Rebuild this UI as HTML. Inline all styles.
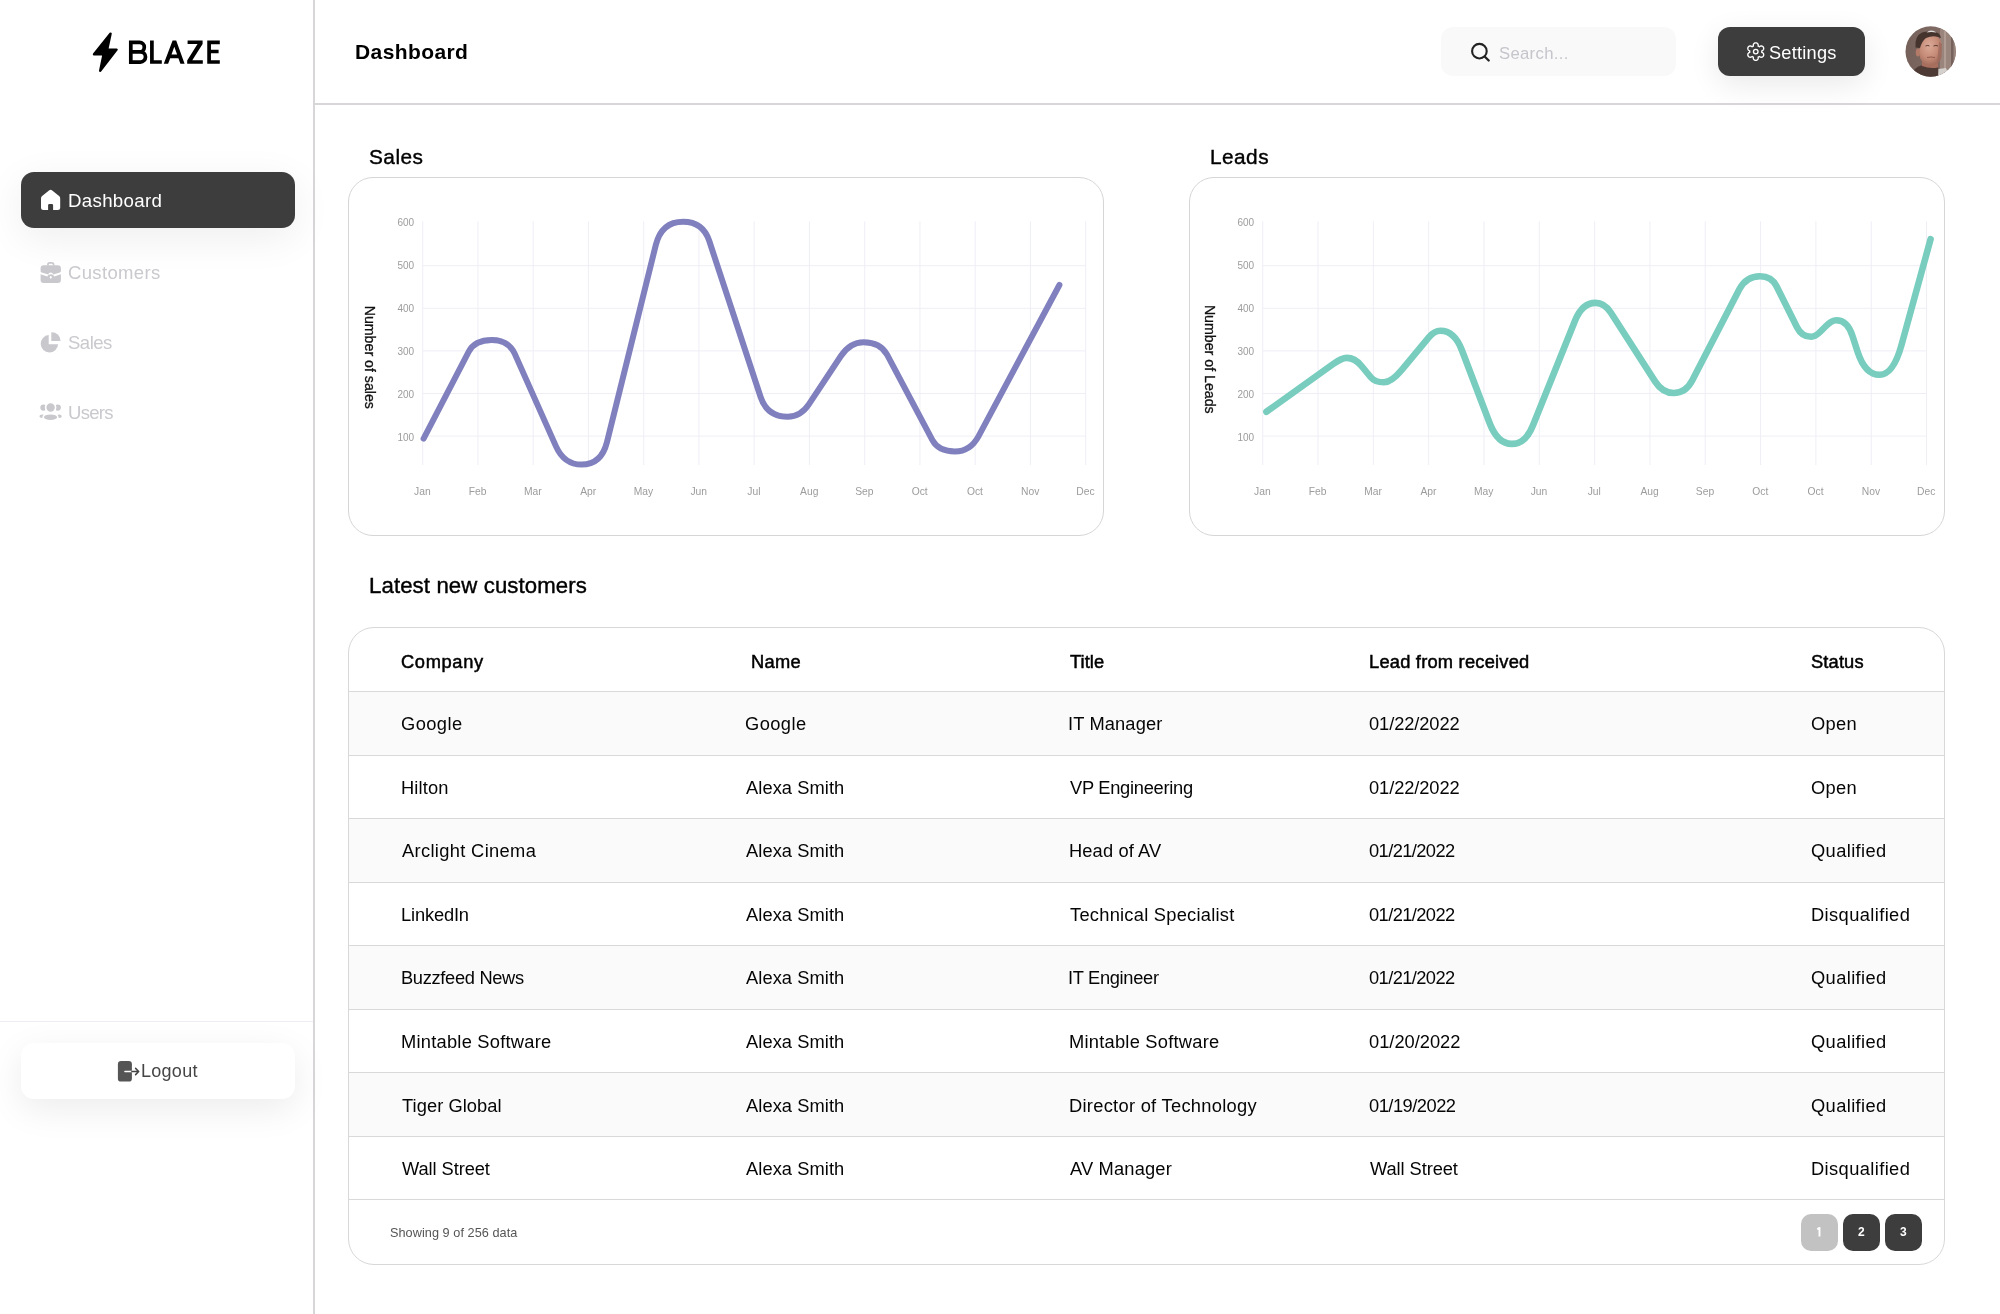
<!DOCTYPE html>
<html><head><meta charset="utf-8"><title>Dashboard</title>
<style>
*{box-sizing:border-box;margin:0;padding:0}
html,body{width:2000px;height:1314px;overflow:hidden;background:#fff;font-family:"Liberation Sans",sans-serif;}
.t{position:absolute;line-height:1;white-space:nowrap;will-change:transform}
.abs{position:absolute;}
svg{position:absolute;left:0;top:0;overflow:visible}
</style></head><body>
<div class="abs" style="left:313px;top:0;width:2px;height:1314px;background:#d8d6d8"></div>
<div class="abs" style="left:315px;top:103px;width:1685px;height:2px;background:#d8d6d8"></div>
<div class="abs" style="left:0;top:1020.5px;width:313px;height:1px;background:#eeedf3"></div>
<div class="abs" style="left:21px;top:172px;width:274px;height:56px;border-radius:13px;background:#3d3d3d;box-shadow:0 10px 40px rgba(0,0,0,0.07)"></div>
<div class="abs" style="left:21px;top:1043px;width:274px;height:56px;border-radius:13px;background:#fff;box-shadow:0 10px 36px rgba(0,0,0,0.08)"></div>
<div class="abs" style="left:1441px;top:27px;width:235px;height:49px;border-radius:12px;background:#f9f9f9"></div>
<div class="abs" style="left:1718px;top:27px;width:147px;height:49px;border-radius:12px;background:#3d3d3d;box-shadow:0 8px 30px rgba(0,0,0,0.09)"></div>
<div class="abs" style="left:348px;top:177px;width:756px;height:359px;border-radius:25px;border:1px solid #d6d6d6;background:#fff"></div>
<div class="abs" style="left:1189px;top:177px;width:756px;height:359px;border-radius:25px;border:1px solid #d6d6d6;background:#fff"></div>
<div class="abs" style="left:348px;top:627px;width:1597px;height:638px;border-radius:26px;border:1px solid #d8d8d8;background:#fff;overflow:hidden"><div class="abs" style="left:0;top:64px;width:1600px;height:63px;background:#fafafa"></div><div class="abs" style="left:0;top:191px;width:1600px;height:63px;background:#fafafa"></div><div class="abs" style="left:0;top:318px;width:1600px;height:63px;background:#fafafa"></div><div class="abs" style="left:0;top:445px;width:1600px;height:63px;background:#fafafa"></div><div class="abs" style="left:0;top:63px;width:1600px;height:1px;background:#d9d9d9"></div><div class="abs" style="left:0;top:127px;width:1600px;height:1px;background:#d9d9d9"></div><div class="abs" style="left:0;top:190px;width:1600px;height:1px;background:#d9d9d9"></div><div class="abs" style="left:0;top:254px;width:1600px;height:1px;background:#d9d9d9"></div><div class="abs" style="left:0;top:317px;width:1600px;height:1px;background:#d9d9d9"></div><div class="abs" style="left:0;top:381px;width:1600px;height:1px;background:#d9d9d9"></div><div class="abs" style="left:0;top:444px;width:1600px;height:1px;background:#d9d9d9"></div><div class="abs" style="left:0;top:508px;width:1600px;height:1px;background:#d9d9d9"></div><div class="abs" style="left:0;top:571px;width:1600px;height:1px;background:#d9d9d9"></div></div>
<div class="abs" style="left:1801px;top:1214px;width:37px;height:37px;border-radius:10px;background:#c2c2c2"></div>
<div class="abs" style="left:1843px;top:1214px;width:37px;height:37px;border-radius:10px;background:#3d3d3d"></div>
<div class="t" style="left:1858.1px;top:1226.1px;font-size:12px;color:#fff;font-weight:700;">2</div>
<div class="abs" style="left:1885px;top:1214px;width:37px;height:37px;border-radius:10px;background:#3d3d3d"></div>
<div class="t" style="left:1900.1px;top:1226.1px;font-size:12px;color:#fff;font-weight:700;">3</div>
<div class="t" style="left:354.8px;top:40.8px;font-size:21px;color:#000;font-weight:700;letter-spacing:0.4px">Dashboard</div>
<div class="t" style="left:1498.6px;top:45.8px;font-size:16.7px;color:#c5c5cc;font-weight:400;letter-spacing:0.31px">Search...</div>
<div class="t" style="left:1768.5px;top:43.5px;font-size:18.2px;color:#fff;font-weight:400;letter-spacing:0.24px">Settings</div>
<div class="t" style="left:68.4px;top:192.1px;font-size:18.7px;color:#fff;font-weight:400;letter-spacing:0.3px">Dashboard</div>
<div class="t" style="left:68.4px;top:264.2px;font-size:18.5px;color:#c9c9ce;font-weight:400;letter-spacing:0.34px">Customers</div>
<div class="t" style="left:68.4px;top:334.2px;font-size:18.5px;color:#c9c9ce;font-weight:400;letter-spacing:-0.5px">Sales</div>
<div class="t" style="left:68.4px;top:403.7px;font-size:18.5px;color:#c9c9ce;font-weight:400;letter-spacing:-0.72px">Users</div>
<div class="t" style="left:141.3px;top:1062.3px;font-size:18px;color:#454545;font-weight:400;letter-spacing:0.28px">Logout</div>
<div class="t" style="left:368.9px;top:146.9px;font-size:20.8px;color:#000;font-weight:400;letter-spacing:0.5px;-webkit-text-stroke:0.4px #000">Sales</div>
<div class="t" style="left:1210.4px;top:146.9px;font-size:20.8px;color:#000;font-weight:400;letter-spacing:0.47px;-webkit-text-stroke:0.4px #000">Leads</div>
<div class="t" style="left:369.4px;top:574.9px;font-size:22.2px;color:#000;font-weight:400;letter-spacing:0.11px;-webkit-text-stroke:0.4px #000">Latest new customers</div>
<div class="t" style="left:401.0px;top:652.7px;font-size:18.3px;color:#000;font-weight:400;letter-spacing:0.65px;-webkit-text-stroke:0.5px #000">Company</div>
<div class="t" style="left:751.0px;top:652.7px;font-size:18.3px;color:#000;font-weight:400;letter-spacing:0.3px;-webkit-text-stroke:0.5px #000">Name</div>
<div class="t" style="left:1070.0px;top:652.7px;font-size:18.3px;color:#000;font-weight:400;letter-spacing:0.05px;-webkit-text-stroke:0.5px #000">Title</div>
<div class="t" style="left:1369.0px;top:652.7px;font-size:18.3px;color:#000;font-weight:400;letter-spacing:0.22px;-webkit-text-stroke:0.5px #000">Lead from received</div>
<div class="t" style="left:1810.8px;top:652.7px;font-size:18.3px;color:#000;font-weight:400;letter-spacing:0.15px;-webkit-text-stroke:0.5px #000">Status</div>
<div class="t" style="left:400.5px;top:715.0px;font-size:18.3px;color:#050505;font-weight:400;letter-spacing:0.44px">Google</div>
<div class="t" style="left:745.0px;top:715.0px;font-size:18.3px;color:#050505;font-weight:400;letter-spacing:0.44px">Google</div>
<div class="t" style="left:1068.2px;top:715.0px;font-size:18.3px;color:#050505;font-weight:400;letter-spacing:0.133px">IT Manager</div>
<div class="t" style="left:1369.2px;top:715.0px;font-size:18.3px;color:#050505;font-weight:400;letter-spacing:-0.089px">01/22/2022</div>
<div class="t" style="left:1811.0px;top:715.0px;font-size:18.3px;color:#050505;font-weight:400;letter-spacing:0.333px">Open</div>
<div class="t" style="left:400.5px;top:778.6px;font-size:18.3px;color:#050505;font-weight:400;letter-spacing:0.14px">Hilton</div>
<div class="t" style="left:746.0px;top:778.6px;font-size:18.3px;color:#050505;font-weight:400;letter-spacing:0.07px">Alexa Smith</div>
<div class="t" style="left:1070.2px;top:778.6px;font-size:18.3px;color:#050505;font-weight:400;letter-spacing:-0.277px">VP Engineering</div>
<div class="t" style="left:1369.2px;top:778.6px;font-size:18.3px;color:#050505;font-weight:400;letter-spacing:-0.089px">01/22/2022</div>
<div class="t" style="left:1811.0px;top:778.6px;font-size:18.3px;color:#050505;font-weight:400;letter-spacing:0.333px">Open</div>
<div class="t" style="left:401.5px;top:842.2px;font-size:18.3px;color:#050505;font-weight:400;letter-spacing:0.343px">Arclight Cinema</div>
<div class="t" style="left:746.0px;top:842.2px;font-size:18.3px;color:#050505;font-weight:400;letter-spacing:0.07px">Alexa Smith</div>
<div class="t" style="left:1069.2px;top:842.2px;font-size:18.3px;color:#050505;font-weight:400;letter-spacing:0.122px">Head of AV</div>
<div class="t" style="left:1369.2px;top:842.2px;font-size:18.3px;color:#050505;font-weight:400;letter-spacing:-0.589px">01/21/2022</div>
<div class="t" style="left:1811.0px;top:842.2px;font-size:18.3px;color:#050505;font-weight:400;letter-spacing:0.387px">Qualified</div>
<div class="t" style="left:400.5px;top:905.8px;font-size:18.3px;color:#050505;font-weight:400;letter-spacing:-0.157px">LinkedIn</div>
<div class="t" style="left:746.0px;top:905.8px;font-size:18.3px;color:#050505;font-weight:400;letter-spacing:0.07px">Alexa Smith</div>
<div class="t" style="left:1070.2px;top:905.8px;font-size:18.3px;color:#050505;font-weight:400;letter-spacing:0.253px">Technical Specialist</div>
<div class="t" style="left:1369.2px;top:905.8px;font-size:18.3px;color:#050505;font-weight:400;letter-spacing:-0.589px">01/21/2022</div>
<div class="t" style="left:1811.0px;top:905.8px;font-size:18.3px;color:#050505;font-weight:400;letter-spacing:0.391px">Disqualified</div>
<div class="t" style="left:400.5px;top:969.3px;font-size:18.3px;color:#050505;font-weight:400;letter-spacing:-0.325px">Buzzfeed News</div>
<div class="t" style="left:746.0px;top:969.3px;font-size:18.3px;color:#050505;font-weight:400;letter-spacing:0.07px">Alexa Smith</div>
<div class="t" style="left:1068.2px;top:969.3px;font-size:18.3px;color:#050505;font-weight:400;letter-spacing:-0.32px">IT Engineer</div>
<div class="t" style="left:1369.2px;top:969.3px;font-size:18.3px;color:#050505;font-weight:400;letter-spacing:-0.589px">01/21/2022</div>
<div class="t" style="left:1811.0px;top:969.3px;font-size:18.3px;color:#050505;font-weight:400;letter-spacing:0.387px">Qualified</div>
<div class="t" style="left:400.5px;top:1032.9px;font-size:18.3px;color:#050505;font-weight:400;letter-spacing:0.244px">Mintable Software</div>
<div class="t" style="left:746.0px;top:1032.9px;font-size:18.3px;color:#050505;font-weight:400;letter-spacing:0.07px">Alexa Smith</div>
<div class="t" style="left:1069.2px;top:1032.9px;font-size:18.3px;color:#050505;font-weight:400;letter-spacing:0.244px">Mintable Software</div>
<div class="t" style="left:1369.2px;top:1032.9px;font-size:18.3px;color:#050505;font-weight:400;letter-spacing:-0.011px">01/20/2022</div>
<div class="t" style="left:1811.0px;top:1032.9px;font-size:18.3px;color:#050505;font-weight:400;letter-spacing:0.387px">Qualified</div>
<div class="t" style="left:401.5px;top:1096.5px;font-size:18.3px;color:#050505;font-weight:400;letter-spacing:0.064px">Tiger Global</div>
<div class="t" style="left:746.0px;top:1096.5px;font-size:18.3px;color:#050505;font-weight:400;letter-spacing:0.07px">Alexa Smith</div>
<div class="t" style="left:1069.2px;top:1096.5px;font-size:18.3px;color:#050505;font-weight:400;letter-spacing:0.286px">Director of Technology</div>
<div class="t" style="left:1369.2px;top:1096.5px;font-size:18.3px;color:#050505;font-weight:400;letter-spacing:-0.5px">01/19/2022</div>
<div class="t" style="left:1811.0px;top:1096.5px;font-size:18.3px;color:#050505;font-weight:400;letter-spacing:0.387px">Qualified</div>
<div class="t" style="left:401.5px;top:1160.0px;font-size:18.3px;color:#050505;font-weight:400;letter-spacing:-0.08px">Wall Street</div>
<div class="t" style="left:746.0px;top:1160.0px;font-size:18.3px;color:#050505;font-weight:400;letter-spacing:0.07px">Alexa Smith</div>
<div class="t" style="left:1070.2px;top:1160.0px;font-size:18.3px;color:#050505;font-weight:400;letter-spacing:0.167px">AV Manager</div>
<div class="t" style="left:1370.2px;top:1160.0px;font-size:18.3px;color:#050505;font-weight:400;letter-spacing:-0.08px">Wall Street</div>
<div class="t" style="left:1811.0px;top:1160.0px;font-size:18.3px;color:#050505;font-weight:400;letter-spacing:0.391px">Disqualified</div>
<div class="t" style="left:390.4px;top:1227.4px;font-size:12.7px;color:#555;font-weight:400;letter-spacing:0.05px">Showing 9 of 256 data</div>
<svg width="2000" height="1314" viewBox="0 0 2000 1314">
<g stroke="#efeef6" stroke-width="1"><line x1="422.70" y1="221.3" x2="422.70" y2="465" /><line x1="477.95" y1="221.3" x2="477.95" y2="465" /><line x1="533.20" y1="221.3" x2="533.20" y2="465" /><line x1="588.45" y1="221.3" x2="588.45" y2="465" /><line x1="643.70" y1="221.3" x2="643.70" y2="465" /><line x1="698.95" y1="221.3" x2="698.95" y2="465" /><line x1="754.20" y1="221.3" x2="754.20" y2="465" /><line x1="809.45" y1="221.3" x2="809.45" y2="465" /><line x1="864.70" y1="221.3" x2="864.70" y2="465" /><line x1="919.95" y1="221.3" x2="919.95" y2="465" /><line x1="975.20" y1="221.3" x2="975.20" y2="465" /><line x1="1030.45" y1="221.3" x2="1030.45" y2="465" /><line x1="1085.70" y1="221.3" x2="1085.70" y2="465" /><line x1="422.70" y1="436.10" x2="1085.70" y2="436.10" /><line x1="422.70" y1="393.50" x2="1085.70" y2="393.50" /><line x1="422.70" y1="350.90" x2="1085.70" y2="350.90" /><line x1="422.70" y1="308.30" x2="1085.70" y2="308.30" /><line x1="422.70" y1="265.70" x2="1085.70" y2="265.70" /></g><g fill="#9c9c9c" font-size="10.3" font-family="Liberation Sans"><text x="414.2" y="226.1" text-anchor="end" font-size="10">600</text><text x="414.2" y="269.0" text-anchor="end" font-size="10">500</text><text x="414.2" y="312.0" text-anchor="end" font-size="10">400</text><text x="414.2" y="354.9" text-anchor="end" font-size="10">300</text><text x="414.2" y="397.9" text-anchor="end" font-size="10">200</text><text x="414.2" y="440.9" text-anchor="end" font-size="10">100</text><text x="422.4" y="495.3" text-anchor="middle">Jan</text><text x="477.6" y="495.3" text-anchor="middle">Feb</text><text x="532.9" y="495.3" text-anchor="middle">Mar</text><text x="588.2" y="495.3" text-anchor="middle">Apr</text><text x="643.4" y="495.3" text-anchor="middle">May</text><text x="698.7" y="495.3" text-anchor="middle">Jun</text><text x="753.9" y="495.3" text-anchor="middle">Jul</text><text x="809.2" y="495.3" text-anchor="middle">Aug</text><text x="864.4" y="495.3" text-anchor="middle">Sep</text><text x="919.7" y="495.3" text-anchor="middle">Oct</text><text x="974.9" y="495.3" text-anchor="middle">Oct</text><text x="1030.2" y="495.3" text-anchor="middle">Nov</text><text x="1085.4" y="495.3" text-anchor="middle">Dec</text></g><text transform="translate(364.6,357.3) rotate(90)" text-anchor="middle" font-size="14.2" fill="#111" stroke="#111" stroke-width="0.3" font-family="Liberation Sans">Number of sales</text><path d="M423.60,438.60 L468.60,351.80 C472.68,343.93 480.41,340.00 491.80,340.00 C503.01,340.00 510.67,344.63 514.80,353.90 L556.00,446.40 C561.40,458.53 569.94,464.60 581.60,464.60 C594.80,464.60 603.27,457.07 607.00,442.00 L655.80,245.00 C659.65,229.47 668.75,221.70 683.10,221.70 C696.31,221.70 705.01,228.07 709.20,240.80 L760.60,397.00 C764.94,410.20 773.98,416.80 787.70,416.80 C796.34,416.80 803.44,412.60 809.00,404.20 L840.90,356.00 C846.99,346.80 854.52,342.20 863.50,342.20 C874.81,342.20 882.71,346.43 887.20,354.90 L932.40,440.20 C936.39,447.73 943.93,451.50 955.00,451.50 C965.24,451.50 973.11,446.37 978.60,436.10 L1059.40,285.00" fill="none" stroke="#8080be" stroke-width="6" stroke-linecap="round" stroke-linejoin="round"/>
<g stroke="#efeef6" stroke-width="1"><line x1="1262.70" y1="221.3" x2="1262.70" y2="465" /><line x1="1318.02" y1="221.3" x2="1318.02" y2="465" /><line x1="1373.34" y1="221.3" x2="1373.34" y2="465" /><line x1="1428.66" y1="221.3" x2="1428.66" y2="465" /><line x1="1483.98" y1="221.3" x2="1483.98" y2="465" /><line x1="1539.30" y1="221.3" x2="1539.30" y2="465" /><line x1="1594.62" y1="221.3" x2="1594.62" y2="465" /><line x1="1649.94" y1="221.3" x2="1649.94" y2="465" /><line x1="1705.26" y1="221.3" x2="1705.26" y2="465" /><line x1="1760.58" y1="221.3" x2="1760.58" y2="465" /><line x1="1815.90" y1="221.3" x2="1815.90" y2="465" /><line x1="1871.22" y1="221.3" x2="1871.22" y2="465" /><line x1="1926.54" y1="221.3" x2="1926.54" y2="465" /><line x1="1262.70" y1="436.10" x2="1926.54" y2="436.10" /><line x1="1262.70" y1="393.50" x2="1926.54" y2="393.50" /><line x1="1262.70" y1="350.90" x2="1926.54" y2="350.90" /><line x1="1262.70" y1="308.30" x2="1926.54" y2="308.30" /><line x1="1262.70" y1="265.70" x2="1926.54" y2="265.70" /></g><g fill="#9c9c9c" font-size="10.3" font-family="Liberation Sans"><text x="1254.2" y="226.1" text-anchor="end" font-size="10">600</text><text x="1254.2" y="269.0" text-anchor="end" font-size="10">500</text><text x="1254.2" y="312.0" text-anchor="end" font-size="10">400</text><text x="1254.2" y="354.9" text-anchor="end" font-size="10">300</text><text x="1254.2" y="397.9" text-anchor="end" font-size="10">200</text><text x="1254.2" y="440.9" text-anchor="end" font-size="10">100</text><text x="1262.4" y="495.3" text-anchor="middle">Jan</text><text x="1317.7" y="495.3" text-anchor="middle">Feb</text><text x="1373.0" y="495.3" text-anchor="middle">Mar</text><text x="1428.4" y="495.3" text-anchor="middle">Apr</text><text x="1483.7" y="495.3" text-anchor="middle">May</text><text x="1539.0" y="495.3" text-anchor="middle">Jun</text><text x="1594.3" y="495.3" text-anchor="middle">Jul</text><text x="1649.6" y="495.3" text-anchor="middle">Aug</text><text x="1705.0" y="495.3" text-anchor="middle">Sep</text><text x="1760.3" y="495.3" text-anchor="middle">Oct</text><text x="1815.6" y="495.3" text-anchor="middle">Oct</text><text x="1870.9" y="495.3" text-anchor="middle">Nov</text><text x="1926.2" y="495.3" text-anchor="middle">Dec</text></g><text transform="translate(1205.3,359.3) rotate(90)" text-anchor="middle" font-size="14.2" fill="#111" stroke="#111" stroke-width="0.3" font-family="Liberation Sans">Number of Leads</text><path d="M1266.40,411.80 L1333.00,364.10 C1338.77,359.97 1343.37,357.90 1346.80,357.90 C1352.14,357.90 1357.04,360.60 1361.50,366.00 L1371.00,377.50 C1373.64,380.70 1377.94,382.30 1383.90,382.30 C1388.91,382.30 1394.94,378.07 1402.00,369.60 L1429.00,337.20 C1432.56,332.93 1436.39,330.80 1440.50,330.80 C1449.83,330.80 1457.00,337.37 1462.00,350.50 L1489.60,423.00 C1494.90,436.93 1502.30,443.90 1511.80,443.90 C1520.95,443.90 1527.95,437.87 1532.80,425.80 L1574.90,321.00 C1579.75,308.93 1586.61,302.90 1595.50,302.90 C1601.52,302.90 1606.65,306.20 1610.90,312.80 L1655.20,381.60 C1660.09,389.20 1666.26,393.00 1673.70,393.00 C1681.76,393.00 1687.93,388.87 1692.20,380.60 L1739.50,289.10 C1743.95,280.50 1750.78,276.20 1760.00,276.20 C1767.67,276.20 1773.13,279.47 1776.40,286.00 L1797.00,327.20 C1800.20,333.60 1804.93,336.80 1811.20,336.80 C1813.87,336.80 1816.97,335.03 1820.50,331.50 L1825.50,326.50 C1829.63,322.37 1833.23,320.30 1836.30,320.30 C1843.72,320.30 1849.12,325.53 1852.50,336.00 L1857.50,351.50 C1862.51,367.03 1869.84,374.80 1879.50,374.80 C1888.70,374.80 1896.04,364.87 1901.50,345.00 L1930.60,239.20" fill="none" stroke="#78cdbf" stroke-width="6.6" stroke-linecap="round" stroke-linejoin="round"/>
<path d="M1817.3,1229.4 L1819.5,1227.9 V1236.4" fill="none" stroke="#fff" stroke-width="1.9" stroke-linecap="butt" stroke-linejoin="round"/>
<path d="M110.6,33.6 L94,54.3 L103.6,54.3 L100.2,70.8 L116.6,49.6 L107.2,49.6 Z" fill="#000" stroke="#000" stroke-width="2.4" stroke-linejoin="round"/>
<g fill="none" stroke="#000" stroke-width="3.7" stroke-linejoin="miter"><path d="M130.8,40.6 V63.8 M129,42.45 H139.6 a4.7,4.7 0 0 1 0,9.4 H130.8 M130.8,51.85 H140.4 a5.1,5.1 0 0 1 0,10.2 H129"/><path d="M151.9,40.6 V62 H161.8"/><path stroke="none" fill="#000" fill-rule="evenodd" d="M163.8,63.8 L172.6,40.6 L176.2,40.6 L184.6,63.8 L180.4,63.8 L178.4,58.2 L170.2,58.2 L168.1,63.8 Z M171.5,54.6 L177.1,54.6 L174.3,46.8 Z"/><path stroke="none" fill="#000" d="M187.6,40.6 H202.6 V43.9 L192.3,60.3 H202.8 V63.8 H187.2 V60.6 L197.5,44.1 H187.6 Z"/><path d="M219.8,42.45 H209.1 V62 H219.8 M209.1,51.5 H218.6 M209.1,40.6 V63.8"/></g>
<path d="M41,198.4 Q41,197 42.1,196.1 L49.3,190.2 Q50.6,189.1 51.9,190.2 L59.1,196.1 Q60.2,197 60.2,198.4 V207.4 Q60.2,209.9 57.7,209.9 H53.1 V205.3 Q53.1,204 51.8,204 H49.4 Q48.1,204 48.1,205.3 V209.9 H43.5 Q41,209.9 41,207.4 Z" fill="#fff"/>
<g fill="#c9c8cd"><path d="M47.9,265.6 v-0.9 a1.8,1.8 0 0 1 1.8,-1.8 h2.1 a1.8,1.8 0 0 1 1.8,1.8 v0.9" fill="none" stroke="#c9c8cd" stroke-width="1.7"/><path d="M40.6,268.2 A3,3 0 0 1 43.6,265.2 H57.9 A3,3 0 0 1 60.9,268.2 V270.9 Q60.9,272 59.8,272.4 L53.3,274.4 Q52.7,272.6 50.75,272.6 Q48.8,272.6 48.2,274.4 L41.7,272.4 Q40.6,272 40.6,270.9 Z"/><path d="M40.6,274.2 L47.3,276.5 Q47.9,274.4 50.75,274.3 Q53.6,274.4 54.2,276.5 L60.9,274.2 V279.9 a3,3 0 0 1 -3,3 H43.6 a3,3 0 0 1 -3,-3 Z"/><ellipse cx="50.75" cy="277.3" rx="0.95" ry="1.35" fill="#fff"/></g>
<g fill="#c9c8cd"><path d="M48.7,335.1 A8.7,8.7 0 1 0 58.1,344.3 L48.7,344.3 Z"/><path d="M51.3,340.9 V332.2 A8.8,8.8 0 0 1 60.6,340.9 Z"/></g>
<g fill="#c9c8cd" stroke="#fff" stroke-width="1.6"><circle cx="43.4" cy="407.6" r="3.9"/><circle cx="57.8" cy="407.6" r="3.9"/><ellipse cx="42.2" cy="416.2" rx="3.6" ry="2.6"/><ellipse cx="59" cy="416.2" rx="3.6" ry="2.6"/><circle cx="50.6" cy="407.5" r="5"/><ellipse cx="50.5" cy="417.2" rx="7.4" ry="3.6"/></g>
<rect x="117.9" y="1061.1" width="14" height="20.5" rx="3.2" fill="#555"/><path d="M125,1071.5 H138.3" stroke="#fff" stroke-width="1.6" stroke-linecap="round"/><path d="M131.9,1071.5 H138.6 M135.6,1068.4 L138.7,1071.5 L135.6,1074.6" fill="none" stroke="#444" stroke-width="1.5" stroke-linecap="round" stroke-linejoin="round"/>
<circle cx="1479.4" cy="51.2" r="7.3" fill="none" stroke="#222" stroke-width="2.1"/><path d="M1484.9,56.7 L1488.7,60.5" stroke="#222" stroke-width="2.3" stroke-linecap="round"/>
<path d="M1755.75,42.80 L1755.90,42.80 L1756.06,42.82 L1756.21,42.84 L1756.36,42.88 L1756.51,42.92 L1756.66,42.97 L1756.80,43.04 L1756.94,43.11 L1757.08,43.19 L1757.22,43.29 L1757.35,43.39 L1757.47,43.51 L1757.59,43.63 L1757.70,43.77 L1757.81,43.92 L1757.91,44.08 L1757.99,44.26 L1758.07,44.46 L1758.14,44.67 L1758.18,44.91 L1758.21,45.19 L1758.21,45.51 L1758.11,46.03 L1758.21,46.07 L1758.31,46.12 L1758.40,46.16 L1758.50,46.21 L1758.59,46.26 L1758.68,46.31 L1758.78,46.36 L1758.87,46.41 L1758.96,46.47 L1759.05,46.53 L1759.13,46.58 L1759.22,46.64 L1759.31,46.71 L1759.39,46.77 L1759.79,46.43 L1760.07,46.26 L1760.33,46.15 L1760.56,46.07 L1760.78,46.02 L1760.98,45.99 L1761.18,45.97 L1761.37,45.98 L1761.56,45.99 L1761.73,46.02 L1761.90,46.06 L1762.06,46.11 L1762.22,46.17 L1762.36,46.24 L1762.51,46.32 L1762.64,46.41 L1762.77,46.50 L1762.89,46.60 L1763.00,46.71 L1763.10,46.82 L1763.20,46.94 L1763.29,47.07 L1763.37,47.20 L1763.44,47.34 L1763.51,47.48 L1763.56,47.62 L1763.61,47.77 L1763.65,47.92 L1763.67,48.07 L1763.69,48.23 L1763.70,48.39 L1763.70,48.55 L1763.68,48.71 L1763.66,48.88 L1763.62,49.04 L1763.57,49.21 L1763.51,49.38 L1763.43,49.54 L1763.34,49.71 L1763.23,49.87 L1763.10,50.04 L1762.94,50.20 L1762.76,50.36 L1762.54,50.53 L1762.25,50.69 L1761.75,50.86 L1761.77,50.97 L1761.78,51.07 L1761.79,51.18 L1761.79,51.28 L1761.80,51.39 L1761.80,51.49 L1761.80,51.60 L1761.80,51.71 L1761.80,51.81 L1761.79,51.92 L1761.79,52.02 L1761.78,52.13 L1761.77,52.23 L1761.75,52.34 L1762.25,52.51 L1762.54,52.67 L1762.76,52.84 L1762.94,53.00 L1763.10,53.16 L1763.23,53.33 L1763.34,53.49 L1763.43,53.66 L1763.51,53.82 L1763.57,53.99 L1763.62,54.16 L1763.66,54.32 L1763.68,54.49 L1763.70,54.65 L1763.70,54.81 L1763.69,54.97 L1763.67,55.13 L1763.65,55.28 L1763.61,55.43 L1763.56,55.58 L1763.51,55.72 L1763.44,55.86 L1763.37,56.00 L1763.29,56.13 L1763.20,56.26 L1763.10,56.38 L1763.00,56.49 L1762.89,56.60 L1762.77,56.70 L1762.64,56.79 L1762.51,56.88 L1762.36,56.96 L1762.22,57.03 L1762.06,57.09 L1761.90,57.14 L1761.73,57.18 L1761.56,57.21 L1761.37,57.22 L1761.18,57.23 L1760.98,57.21 L1760.78,57.18 L1760.56,57.13 L1760.33,57.05 L1760.07,56.94 L1759.79,56.77 L1759.39,56.43 L1759.31,56.49 L1759.22,56.56 L1759.13,56.62 L1759.05,56.67 L1758.96,56.73 L1758.87,56.79 L1758.78,56.84 L1758.68,56.89 L1758.59,56.94 L1758.50,56.99 L1758.40,57.04 L1758.31,57.08 L1758.21,57.13 L1758.11,57.17 L1758.21,57.69 L1758.21,58.01 L1758.18,58.29 L1758.14,58.53 L1758.07,58.74 L1757.99,58.94 L1757.91,59.12 L1757.81,59.28 L1757.70,59.43 L1757.59,59.57 L1757.47,59.69 L1757.35,59.81 L1757.22,59.91 L1757.08,60.01 L1756.94,60.09 L1756.80,60.16 L1756.66,60.23 L1756.51,60.28 L1756.36,60.32 L1756.21,60.36 L1756.06,60.38 L1755.90,60.40 L1755.75,60.40 L1755.60,60.40 L1755.44,60.38 L1755.29,60.36 L1755.14,60.32 L1754.99,60.28 L1754.84,60.23 L1754.70,60.16 L1754.56,60.09 L1754.42,60.01 L1754.28,59.91 L1754.15,59.81 L1754.03,59.69 L1753.91,59.57 L1753.80,59.43 L1753.69,59.28 L1753.59,59.12 L1753.51,58.94 L1753.43,58.74 L1753.36,58.53 L1753.32,58.29 L1753.29,58.01 L1753.29,57.69 L1753.39,57.17 L1753.29,57.13 L1753.19,57.08 L1753.10,57.04 L1753.00,56.99 L1752.91,56.94 L1752.82,56.89 L1752.72,56.84 L1752.63,56.79 L1752.54,56.73 L1752.45,56.67 L1752.37,56.62 L1752.28,56.56 L1752.19,56.49 L1752.11,56.43 L1751.71,56.77 L1751.43,56.94 L1751.17,57.05 L1750.94,57.13 L1750.72,57.18 L1750.52,57.21 L1750.32,57.23 L1750.13,57.22 L1749.94,57.21 L1749.77,57.18 L1749.60,57.14 L1749.44,57.09 L1749.28,57.03 L1749.14,56.96 L1748.99,56.88 L1748.86,56.79 L1748.73,56.70 L1748.61,56.60 L1748.50,56.49 L1748.40,56.38 L1748.30,56.26 L1748.21,56.13 L1748.13,56.00 L1748.06,55.86 L1747.99,55.72 L1747.94,55.58 L1747.89,55.43 L1747.85,55.28 L1747.83,55.13 L1747.81,54.97 L1747.80,54.81 L1747.80,54.65 L1747.82,54.49 L1747.84,54.32 L1747.88,54.16 L1747.93,53.99 L1747.99,53.82 L1748.07,53.66 L1748.16,53.49 L1748.27,53.33 L1748.40,53.16 L1748.56,53.00 L1748.74,52.84 L1748.96,52.67 L1749.25,52.51 L1749.75,52.34 L1749.73,52.23 L1749.72,52.13 L1749.71,52.02 L1749.71,51.92 L1749.70,51.81 L1749.70,51.71 L1749.70,51.60 L1749.70,51.49 L1749.70,51.39 L1749.71,51.28 L1749.71,51.18 L1749.72,51.07 L1749.73,50.97 L1749.75,50.86 L1749.25,50.69 L1748.96,50.53 L1748.74,50.36 L1748.56,50.20 L1748.40,50.04 L1748.27,49.87 L1748.16,49.71 L1748.07,49.54 L1747.99,49.38 L1747.93,49.21 L1747.88,49.04 L1747.84,48.88 L1747.82,48.71 L1747.80,48.55 L1747.80,48.39 L1747.81,48.23 L1747.83,48.07 L1747.85,47.92 L1747.89,47.77 L1747.94,47.62 L1747.99,47.48 L1748.06,47.34 L1748.13,47.20 L1748.21,47.07 L1748.30,46.94 L1748.40,46.82 L1748.50,46.71 L1748.61,46.60 L1748.73,46.50 L1748.86,46.41 L1748.99,46.32 L1749.14,46.24 L1749.28,46.17 L1749.44,46.11 L1749.60,46.06 L1749.77,46.02 L1749.94,45.99 L1750.13,45.98 L1750.32,45.97 L1750.52,45.99 L1750.72,46.02 L1750.94,46.07 L1751.17,46.15 L1751.43,46.26 L1751.71,46.43 L1752.11,46.77 L1752.19,46.71 L1752.28,46.64 L1752.37,46.58 L1752.45,46.53 L1752.54,46.47 L1752.63,46.41 L1752.72,46.36 L1752.82,46.31 L1752.91,46.26 L1753.00,46.21 L1753.10,46.16 L1753.19,46.12 L1753.29,46.07 L1753.39,46.03 L1753.29,45.51 L1753.29,45.19 L1753.32,44.91 L1753.36,44.67 L1753.43,44.46 L1753.51,44.26 L1753.59,44.08 L1753.69,43.92 L1753.80,43.77 L1753.91,43.63 L1754.03,43.51 L1754.15,43.39 L1754.28,43.29 L1754.42,43.19 L1754.56,43.11 L1754.70,43.04 L1754.84,42.97 L1754.99,42.92 L1755.14,42.88 L1755.29,42.84 L1755.44,42.82 L1755.60,42.80Z" fill="none" stroke="#fff" stroke-width="1.35" stroke-linejoin="round"/><circle cx="1755.75" cy="51.6" r="2.3" fill="none" stroke="#fff" stroke-width="1.35"/>
<defs><clipPath id="av"><circle cx="1930.7" cy="51.5" r="25.2"/></clipPath><linearGradient id="bgL" x1="0" y1="0" x2="1" y2="0"><stop offset="0" stop-color="#75605a"/><stop offset="1" stop-color="#86706a"/></linearGradient><radialGradient id="fg" cx="0.45" cy="0.35" r="0.7"><stop offset="0" stop-color="#dcaa98"/><stop offset="0.6" stop-color="#c48a76"/><stop offset="1" stop-color="#9c6656"/></radialGradient></defs><g clip-path="url(#av)"><rect x="1905" y="26" width="52" height="52" fill="url(#bgL)"/><rect x="1940" y="26" width="17" height="52" fill="#9a857c"/><rect x="1944" y="26" width="2" height="52" fill="#b09c93"/><rect x="1951" y="26" width="2.5" height="52" fill="#75625c"/><path d="M1913,78 L1914,70 Q1918,65.5 1924,65 L1938,66 L1939,78 Z" fill="#4e3a34"/><path d="M1922,60 L1938,60 L1938,67.5 Q1930,69 1922,66 Z" fill="#a86e5e"/><path d="M1938,78 L1938.5,69 L1946,68 L1950,78 Z" fill="#d4d0ce"/><ellipse cx="1918" cy="52.5" rx="2.2" ry="4" fill="#b47a68"/><path d="M1919,40 Q1920,35 1930,35 Q1941,35 1941.5,44 L1941,56 Q1939,64 1931,65.5 Q1923,65 1920,58 Z" fill="url(#fg)"/><path d="M1939,42 L1942,44 L1941.5,57 Q1940.5,62 1937,64 Z" fill="#9d6a5c" opacity="0.8"/><path d="M1915.5,47.5 Q1914.5,36 1922,32.5 Q1930,30.5 1938,33 Q1941,35 1941,38 Q1934,34.5 1926,38 Q1922,41 1920,48 Z" fill="#45332d"/><path d="M1926.5,32.6 Q1931,28.6 1936.5,32.6 Q1931,31.2 1926.5,32.6 Z" fill="#dcdad8"/><path d="M1925.5,46 Q1928,44.8 1929.5,46 M1933.5,46 Q1936,44.8 1938,46" stroke="#5a3a30" stroke-width="1" fill="none"/><path d="M1927,57.5 Q1931,56.5 1935,57.5" stroke="#8a5448" stroke-width="0.9" fill="none"/></g>
</svg>
</body></html>
